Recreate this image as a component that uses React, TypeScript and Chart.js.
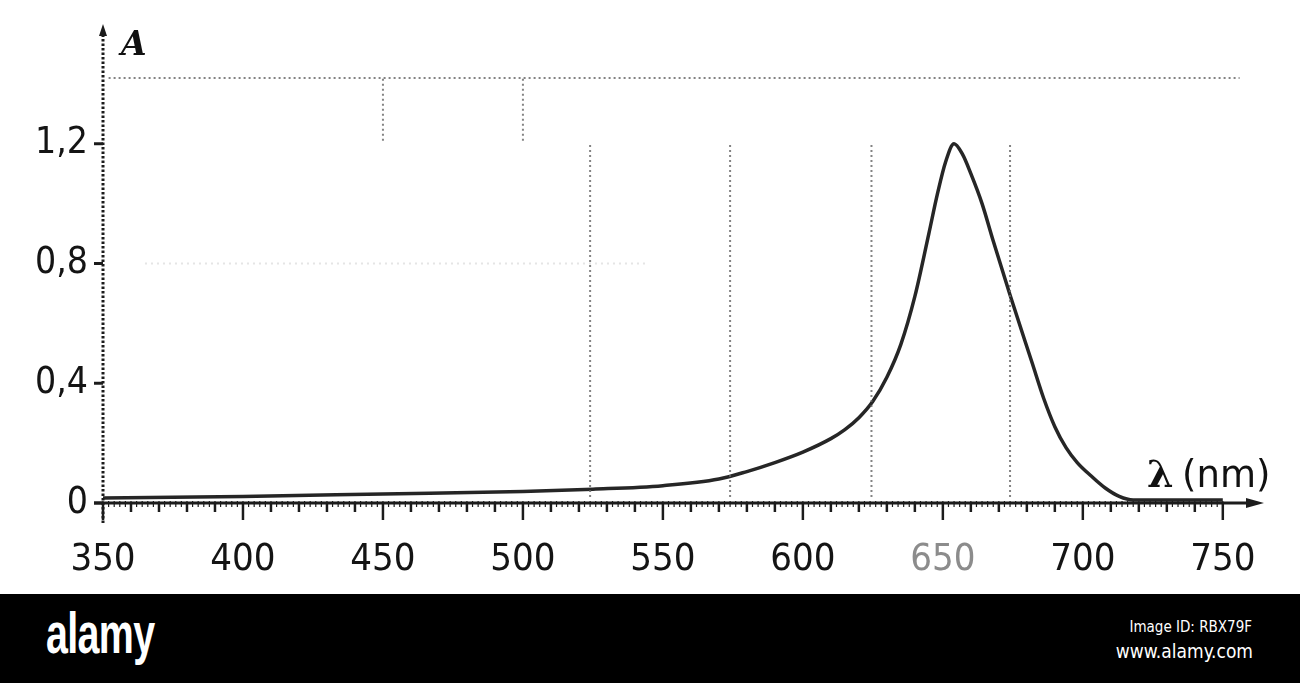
import React, { useEffect, useRef } from "react";
import { Chart, registerables } from "chart.js";

Chart.register(...registerables);

// Absorption spectrum
const wavelengths = [350, 400, 450, 500, 525, 550, 570, 580, 590, 600, 610, 615, 620, 625, 630, 635, 640, 645, 648, 651, 654, 657, 660, 664, 668, 674, 682, 686, 690, 694, 698, 703, 708, 713, 718, 750];
const absorbance = [0.017, 0.022, 0.03, 0.038, 0.046, 0.058, 0.08, 0.105, 0.135, 0.17, 0.215, 0.245, 0.285, 0.34, 0.42, 0.53, 0.69, 0.9, 1.03, 1.14, 1.2, 1.165, 1.1, 1.0, 0.875, 0.695, 0.465, 0.35, 0.255, 0.185, 0.135, 0.09, 0.05, 0.022, 0.01, 0.01];

const xTickValues = [350, 400, 450, 500, 550, 600, 650, 700, 750];
const yTickValues = [0, 0.4, 0.8, 1.2];
const yTickLabels = ["0", "0,4", "0,8", "1,2"];

// dotted guide lines seen on the scan
const upperGridX = [450, 500];
const lowerGridX = [524, 574, 624.5, 674];
const topGridY = 1.42;
const faintGridY = 0.8;

const X_MIN = 350;
const X_MAX = 764;
const Y_MIN = 0;
const Y_MAX = 1.6;

const LABEL_FONT = '"DejaVu Sans Condensed", "DejaVu Sans", sans-serif';

const decor = {
  id: "decor",
  afterDatasetsDraw(chart: any) {
    const { ctx } = chart;
    const x = chart.scales.x;
    const y = chart.scales.y;
    const x0 = x.getPixelForValue(X_MIN);
    const y0 = y.getPixelForValue(0);
    ctx.save();
    // x axis
    ctx.strokeStyle = "#1c1c1c";
    ctx.fillStyle = "#1c1c1c";
    ctx.lineWidth = 3;
    ctx.beginPath();
    ctx.moveTo(x0 - 9, y0);
    ctx.lineTo(x.right - 6, y0);
    ctx.stroke();
    ctx.beginPath();
    ctx.moveTo(x.right + 2, y0);
    ctx.lineTo(x.right - 16, y0 - 5);
    ctx.lineTo(x.right - 16, y0 + 5);
    ctx.closePath();
    ctx.fill();
    // x minor / major ticks
    ctx.lineWidth = 2.5;
    for (let v = X_MIN; v <= 750; v += 10) {
      const px = x.getPixelForValue(v);
      const len = v % 50 === 0 ? 17 : 9;
      ctx.beginPath();
      ctx.moveTo(px, y0);
      ctx.lineTo(px, y0 + len);
      ctx.stroke();
    }
    ctx.lineWidth = 1.2;
    for (let v = X_MIN; v <= 750; v += 2) {
      const px = x.getPixelForValue(v);
      ctx.beginPath();
      ctx.moveTo(px, y0 - 2);
      ctx.lineTo(px, y0 + 4);
      ctx.stroke();
    }
    // y axis (dotted)
    ctx.lineWidth = 3;
    ctx.setLineDash([2.5, 2]);
    ctx.beginPath();
    ctx.moveTo(x0, y0 + 20);
    ctx.lineTo(x0, y.top + 8);
    ctx.stroke();
    ctx.setLineDash([]);
    ctx.beginPath();
    ctx.moveTo(x0, y.top);
    ctx.lineTo(x0 - 4, y.top + 12);
    ctx.lineTo(x0 + 4, y.top + 12);
    ctx.closePath();
    ctx.fill();
    // y tick dashes
    ctx.lineWidth = 3;
    for (const v of yTickValues) {
      const py = y.getPixelForValue(v);
      ctx.beginPath();
      ctx.moveTo(x0 - 9, py);
      ctx.lineTo(x0, py);
      ctx.stroke();
    }
    // axis titles
    ctx.fillStyle = "#111";
    ctx.textBaseline = "alphabetic";
    ctx.textAlign = "left";
    ctx.font = 'bold italic 33px "DejaVu Serif", serif';
    ctx.fillText("A", x0 + 18, y.top + 31);
    ctx.font = 'bold 38px "DejaVu Serif", serif';
    ctx.fillText("λ", 1147, y0 - 16);
    ctx.font = '37px "DejaVu Sans", sans-serif';
    ctx.fillText("(nm)", 1182, y0 - 16);
    ctx.restore();
  },
};

function vline(xv: number, y1: number, y2: number) {
  return {
    data: [{ x: xv, y: y1 }, { x: xv, y: y2 }],
    borderColor: "rgba(100,100,100,0.8)",
    borderWidth: 2,
    borderDash: [2, 3],
    pointRadius: 0,
    fill: false,
  };
}

export default function App() {
  const ref = useRef<HTMLCanvasElement | null>(null);

  useEffect(() => {
    if (!ref.current) return;
    const curve = wavelengths.map((w, i) => ({ x: w, y: absorbance[i] }));
    const chart = new Chart(ref.current, {
      type: "line",
      data: {
        datasets: [
          {
            data: [{ x: 352, y: topGridY }, { x: 756, y: topGridY }],
            borderColor: "rgba(100,100,100,0.8)",
            borderWidth: 2,
            borderDash: [2, 3],
            pointRadius: 0,
          },
          {
            data: [{ x: 365, y: faintGridY }, { x: 545, y: faintGridY }],
            borderColor: "rgba(180,180,180,0.35)",
            borderWidth: 2,
            borderDash: [2, 4],
            pointRadius: 0,
          },
          ...upperGridX.map((v) => vline(v, 1.21, topGridY)),
          ...lowerGridX.map((v) => vline(v, 0.02, 1.2)),
          {
            data: curve,
            borderColor: "#262626",
            borderWidth: 3.5,
            pointRadius: 0,
            cubicInterpolationMode: "monotone",
            fill: false,
          },
        ],
      },
      options: {
        animation: false,
        responsive: true,
        maintainAspectRatio: false,
        layout: { padding: { top: 24, right: 38, left: 0, bottom: 0 } },
        plugins: { legend: { display: false }, tooltip: { enabled: false } },
        scales: {
          x: {
            type: "linear",
            min: X_MIN,
            max: X_MAX,
            afterBuildTicks: (s: any) => {
              s.ticks = xTickValues.map((v) => ({ value: v }));
            },
            afterFit: (s: any) => {
              s.height = 91;
              s.paddingLeft = 0;
              s.paddingRight = 0;
            },
            grid: { display: false, drawTicks: false },
            border: { display: false },
            ticks: {
              padding: 34,
              autoSkip: false,
              maxRotation: 0,
              font: { family: LABEL_FONT, size: 38 },
              color: (c: any) => (c.tick && c.tick.value === 650 ? "#8c8c8c" : "#141414"),
              callback: (v: any) => String(v),
            },
          },
          y: {
            type: "linear",
            min: Y_MIN,
            max: Y_MAX,
            afterBuildTicks: (s: any) => {
              s.ticks = yTickValues.map((v) => ({ value: v }));
            },
            afterFit: (s: any) => {
              s.width = 103;
              s.paddingTop = 0;
              s.paddingBottom = 0;
            },
            grid: { display: false, drawTicks: false },
            border: { display: false },
            ticks: {
              padding: 15,
              autoSkip: false,
              font: { family: LABEL_FONT, size: 37 },
              color: "#141414",
              callback: (v: any) => {
                const i = yTickValues.indexOf(Number(v));
                return i >= 0 ? yTickLabels[i] : "";
              },
            },
          },
        },
      },
      plugins: [decor],
    });
    return () => chart.destroy();
  }, []);

  return (
    <div style={{ position: "absolute", left: 0, top: 0, width: 1300, height: 683, background: "#fff", overflow: "hidden" }}>
      <div style={{ position: "absolute", left: 0, top: 0, width: 1300, height: 594 }}>
        <canvas ref={ref} />
      </div>
      <div style={{ position: "absolute", left: 0, top: 594, width: 1300, height: 89, background: "#000" }}>
        <div
          style={{
            position: "absolute",
            left: 46,
            top: 6,
            color: "#fff",
            fontFamily: '"Liberation Sans", Arial, sans-serif',
            fontWeight: 700,
            fontSize: 58,
            letterSpacing: -1,
            transform: "scaleX(0.68)",
            transformOrigin: "left top",
            lineHeight: "66px",
          }}
        >
          alamy
        </div>
        <div
          style={{
            position: "absolute",
            right: 48,
            top: 24,
            color: "#fff",
            fontFamily: '"DejaVu Sans Condensed", "DejaVu Sans", sans-serif',
            fontSize: 15,
            lineHeight: "18px",
            textAlign: "right",
          }}
        >
          Image ID: RBX79F
        </div>
        <div
          style={{
            position: "absolute",
            right: 47,
            top: 46,
            color: "#fff",
            fontFamily: '"DejaVu Sans Condensed", "DejaVu Sans", sans-serif',
            fontSize: 19,
            lineHeight: "22px",
            textAlign: "right",
          }}
        >
          www.alamy.com
        </div>
      </div>
    </div>
  );
}
